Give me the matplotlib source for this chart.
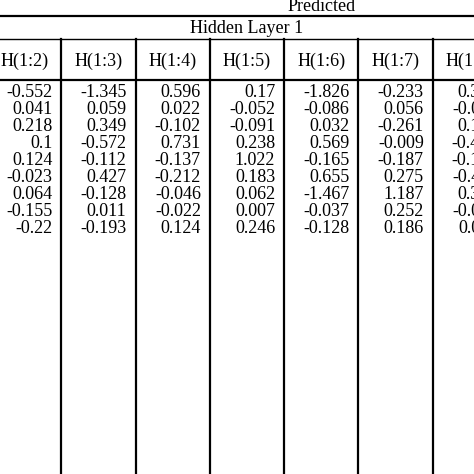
import matplotlib
matplotlib.use("Agg")
import matplotlib.pyplot as plt

headers = ["H(1:2)", "H(1:3)", "H(1:4)", "H(1:5)", "H(1:6)", "H(1:7)", "H(1:8)"]
col_h12 = ["-0.552", "0.041", "0.218", "0.1", "0.124", "-0.023", "0.064", "-0.155", "-0.22"]
col_h13 = ["-1.345", "0.059", "0.349", "-0.572", "-0.112", "0.427", "-0.128", "0.011", "-0.193"]
col_h14 = ["0.596", "0.022", "-0.102", "0.731", "-0.137", "-0.212", "-0.046", "-0.022", "0.124"]
col_h15 = ["0.17", "-0.052", "-0.091", "0.238", "1.022", "0.183", "0.062", "0.007", "0.246"]
col_h16 = ["-1.826", "-0.086", "0.032", "0.569", "-0.165", "0.655", "-1.467", "-0.037", "-0.128"]
col_h17 = ["-0.233", "0.056", "-0.261", "-0.009", "-0.187", "0.275", "1.187", "0.252", "0.186"]
col_h18 = ["0.312", "-0.064", "0.157", "-0.431", "-0.124", "-0.452", "0.318", "-0.061", "0.093"]
columns = [col_h12, col_h13, col_h14, col_h15, col_h16, col_h17, col_h18]

fig = plt.figure(figsize=(4.74, 4.74), dpi=100)
ax = fig.add_axes([0, 0, 1, 1])
ax.set_xlim(0, 474)
ax.set_ylim(474, 0)
ax.axis("off")

font = dict(family="Liberation Serif", fontsize=13, color="black")
x0, w = -13, 74.3
vlines = [x0 + w * (i + 1) for i in range(6)]

ax.plot([0, 474], [16, 16], color="black", lw=1.6)
ax.plot([0, 474], [38.5, 38.5], color="black", lw=1.0)
ax.plot([0, 474], [80, 80], color="black", lw=1.6)
for x in vlines:
    ax.plot([x, x], [38.5, 474], color="black", lw=1.6)

ax.text(322, 6, "Predicted", ha="center", va="center", **font)
ax.text(247, 28, "Hidden Layer 1", ha="center", va="center", **font)

for i, (h, col) in enumerate(zip(headers, columns)):
    left = x0 + w * i
    ax.text(left + w / 2, 61, h, ha="center", va="center", **font)
    for j, v in enumerate(col):
        ax.text(left + w - 9, 92 + j * 17.1, v, ha="right", va="center", **font)

fig.savefig("out.png", dpi=100)
